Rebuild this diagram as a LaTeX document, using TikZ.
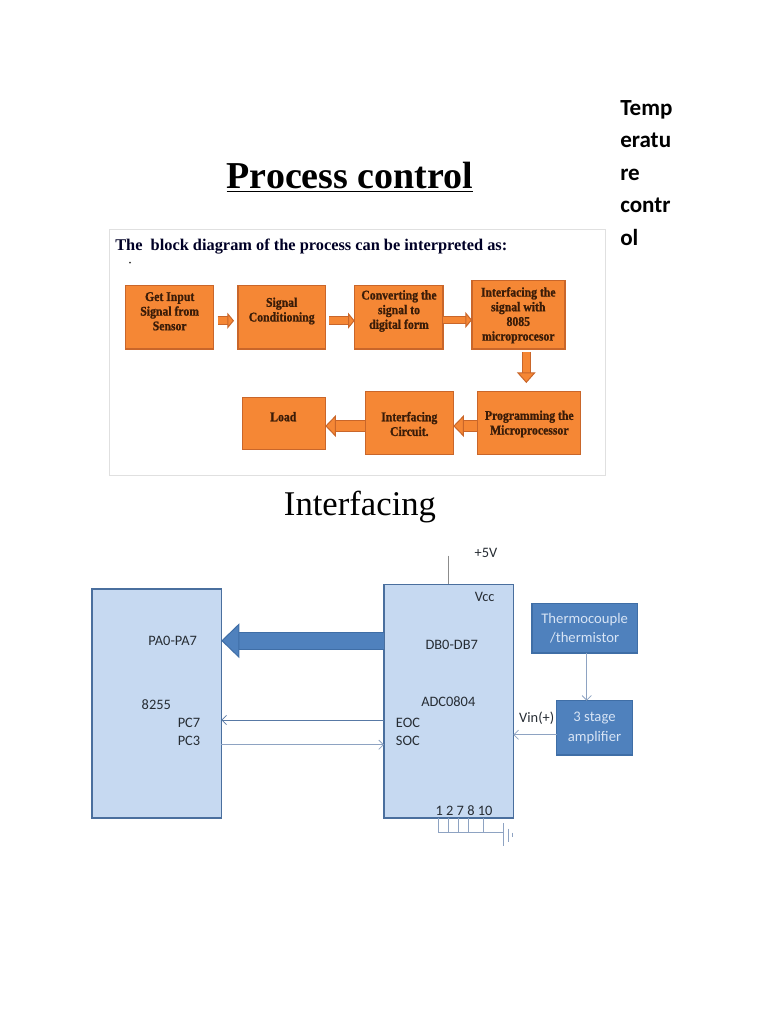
\documentclass[tikz,border=0pt]{standalone}
\usepackage{fontspec}
\setmainfont{Liberation Serif}
\newfontfamily\calib{Carlito}
\newfontfamily\boxfont[FakeStretch=0.88,FakeBold=1]{Liberation Serif Bold}
\usetikzlibrary{arrows.meta,calc}
\definecolor{orF}{HTML}{F58735}
\definecolor{orD}{HTML}{C9662A}
\definecolor{ltF}{HTML}{C6D9F1}
\definecolor{blF}{HTML}{4F81BD}
\definecolor{blD}{HTML}{3F6EA6}
\definecolor{edgeB}{HTML}{4A6F9E}
\definecolor{wire}{HTML}{8EA3C2}
\definecolor{inkO}{HTML}{3A1C08}
\definecolor{inkB}{HTML}{262C33}
\tikzset{
 obox/.style={draw=orD,fill=orF,line width=1pt,inner sep=0pt,outer sep=0pt,anchor=north west},
 otxt/.style={font=\boxfont\fontsize{10}{11}\selectfont,text=inkO,align=center,inner sep=0pt},
 oarr/.style={draw=orD,double=orF,line width=.75pt,double distance=#1},
 lbox/.style={draw=edgeB,fill=ltF,line width=1pt,inner sep=0pt,outer sep=0pt,anchor=north west},
 dbox/.style={draw=blD,fill=blF,line width=1pt,inner sep=0pt,outer sep=0pt,anchor=north west,
   font=\calib\fontsize{11}{14.5}\selectfont,text=ltF!70!white,align=center},
 lab/.style={font=\calib\fontsize{10.8}{12}\selectfont,text=inkB,inner sep=0pt},
 wire/.style={draw=wire,line width=.75pt},
 warr/.style={wire,-{Straight Barb[length=3.5pt,width=7pt,line width=.6pt]}},
}
\begin{document}
\begin{tikzpicture}[x=.75pt,y=-.75pt]
\useasboundingbox (0,0) rectangle (768,1024);
\fill[white] (0,0) rectangle (768,1024);
% headings
\node[inner sep=0pt,font=\fontsize{28.5}{32}\selectfont\bfseries] (title) at (350,177) {\underline{Process control}};
\node[inner sep=0pt,font=\fontsize{26}{30}\selectfont] (iface) at (360,507) {Interfacing};
\node[inner sep=0pt,anchor=north west,align=left,font=\calib\fontsize{17.3}{24.4}\selectfont\bfseries] (temp) at (620,100) {Temp\\eratu\\re\\contr\\ol};
% panel
\node[draw=black!12,fill=white,line width=.75pt,inner sep=0pt,outer sep=0pt,anchor=north west,minimum width=495.5*.75pt,minimum height=246*.75pt] (panel) at (109.5,229) {};
\node[inner sep=0pt,anchor=west,font=\fontsize{12.27}{15}\selectfont\bfseries,text=black!85!blue] (ptitle) at (115,247) {The\ \ block diagram of the process can be interpreted as:};
\fill[black!80] (130,262.5) circle[radius=1];
% orange boxes
\node[obox,minimum width=88.4*.75pt,minimum height=63.3*.75pt] (b1) at (125.3,285.7) {};
\node[obox,minimum width=87.3*.75pt,minimum height=63.3*.75pt] (b2) at (238,285.7) {};
\node[obox,minimum width=88.3*.75pt,minimum height=63.3*.75pt] (b3) at (354.7,285.7) {};
\node[obox,minimum width=93*.75pt,minimum height=68.3*.75pt] (b4) at (472,280.7) {};
\node[obox,minimum width=103.4*.75pt,minimum height=63*.75pt] (b5) at (477.3,391.7) {};
\node[obox,minimum width=88*.75pt,minimum height=63*.75pt] (b6) at (365.3,391.7) {};
\node[obox,minimum width=82.6*.75pt,minimum height=51.6*.75pt] (b7) at (242.7,397.7) {};
\node[otxt] (t1) at (169.7,311.3) {Get Input\\Signal from\\Sensor};
\node[otxt] (t2) at (281.7,311) {Signal\\Conditioning};
\node[otxt] (t3) at (399,311) {Converting the\\signal to\\digital form};
\node[otxt] (t4) at (518.3,315.3) {Interfacing the\\signal with\\8085\\microprocesor};
\node[otxt] (t5) at (529.3,424) {Programming the\\Microprocessor};
\node[otxt] (t6) at (409.3,424) {Interfacing\\Circuit.};
\node[otxt] (t7) at (283.3,416.7) {Load};
% orange arrows
\draw[oarr=5pt,-{Triangle[width=12pt,length=5pt,line width=.75pt,fill=orF]},shorten <=3pt,shorten >=3pt]
  (b1.east |- 0,320.7) -- (b2.west |- 0,320.7);
\draw[oarr=5pt,-{Triangle[width=12pt,length=5pt,line width=.75pt,fill=orF]},shorten <=3pt]
  (b2.east |- 0,320.7) -- (b3.west |- 0,320.7);
\draw[oarr=5pt,-{Triangle[width=12pt,length=5pt,line width=.75pt,fill=orF]}]
  (b3.east |- 0,320) -- (b4.west |- 0,320);
\draw[oarr=5.5pt,-{Triangle[width=14pt,length=8pt,line width=.75pt,fill=orF]},shorten <=2.5pt,shorten >=6.5pt]
  (b4.south -| 526.3,0) -- (b5.north -| 526.3,0);
\draw[oarr=7pt,-{Triangle[width=16.5pt,length=8pt,line width=.75pt,fill=orF]}]
  (b5.west |- 0,426) -- (b6.east |- 0,426);
\draw[oarr=7.5pt,-{Triangle[width=16.5pt,length=8pt,line width=.75pt,fill=orF]}]
  (b6.west |- 0,426) -- (b7.east |- 0,426);
% lower diagram
\node[lbox,minimum width=129.3*.75pt,minimum height=229*.75pt] (p8255) at (92,589) {};
\node[lbox,minimum width=129.3*.75pt,minimum height=233.7*.75pt] (adc) at (384,584.3) {};
\node[dbox,minimum width=105.3*.75pt,minimum height=49.3*.75pt] (thermo) at (532,603.7) {Thermocouple\\/thermistor};
\node[dbox,minimum width=75.6*.75pt,minimum height=54.3*.75pt] (amp) at (556.7,700.7) {3 stage\\amplifier};
\draw[draw=blD,double=blF,line width=.75pt,double distance=12pt,-{Triangle[width=26pt,length=13.5pt,line width=.75pt,fill=blF]}]
  (adc.west |- 0,640.7) -- (p8255.east |- 0,640.7);
\draw[warr,draw=edgeB!80!wire] (adc.west |- 0,720) -- (p8255.east |- 0,720);
\draw[warr] (p8255.east |- 0,744.7) -- (adc.west |- 0,744.7);
\draw[warr] (amp.west |- 0,734.7) -- (adc.east |- 0,734.7);
\draw[warr] (thermo.south -| 586.7,0) -- (amp.north -| 586.7,0);
\coordinate (vcc) at (448.7,555.7);
\draw[wire,draw=black!45] (vcc) -- (adc.north -| vcc);
% ground
\coordinate (gnd) at (503.3,832);
\draw[wire] (adc.south -| 438.3,0) -- (438.3,832) -- (gnd);
\draw[wire] (adc.south -| 448.7,0) -- (448.7,832);
\draw[wire] (adc.south -| 458.3,0) -- (458.3,832);
\draw[wire] (adc.south -| 468.3,0) -- (468.3,832);
\draw[wire] (adc.south -| 483.3,0) -- (483.3,832);
\draw[wire] (503.3,823) -- (503.3,846);
\draw[wire] (508.3,828.7) -- (508.3,841.7);
\draw[wire] (512.7,832.7) -- (512.7,837.3);
% labels
\node[lab] (l5v) at (486,553) {+5V};
\node[lab] (lvcc) at (484.7,597) {Vcc};
\node[lab] (ldb) at (451.7,645) {DB0-DB7};
\node[lab] (ladc) at (448.3,701.7) {ADC0804};
\node[lab,anchor=west] (leoc) at (395.7,723) {EOC};
\node[lab,anchor=west] (lsoc) at (395.7,741) {SOC};
\node[lab] (lpins) at (464,811) {1 2 7 8 10};
\node[lab] (lvin) at (536.7,718.7) {Vin(+)};
\node[lab] (lpa) at (172.7,640.7) {PA0-PA7};
\node[lab] (l8255) at (156.3,704.3) {8255};
\node[lab] (lpc7) at (189,723.3) {PC7};
\node[lab] (lpc3) at (189,741.3) {PC3};
\end{tikzpicture}
\end{document}
